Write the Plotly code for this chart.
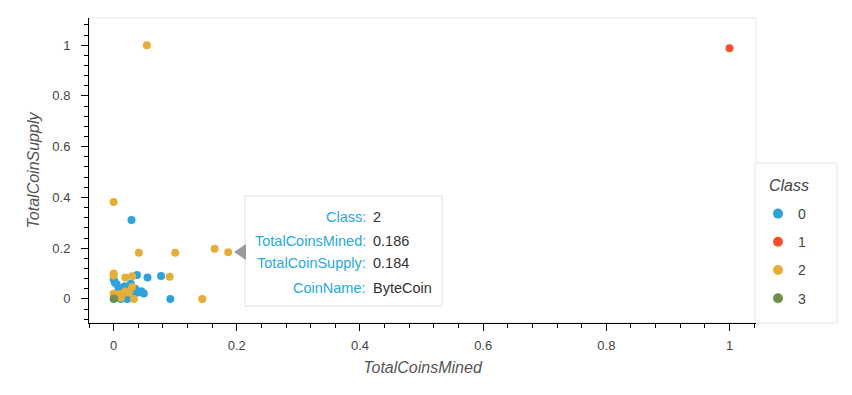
import plotly.graph_objects as go

# ---- data ----
class0_x = [0.029, 0.038, 0.055, 0.077, 0.000, 0.005, 0.016, 0.040, 0.049, 0.003, 0.092, 0.020, 0.025, 0.010, 0.035, 0.012, 0.045, 0.028, 0.008, 0.018, 0.002, 0.030, 0.022]
class0_y = [0.311, 0.094, 0.084, 0.090, 0.077, 0.058, 0.044, 0.025, 0.021, 0.005, 0.000, 0.010, 0.005, 0.020, 0.040, 0.000, 0.030, 0.060, 0.035, 0.050, 0.065, 0.015, 0.000]
class1_x = [1.0]
class1_y = [0.988]
class2_x = [0.054, 0.000, 0.041, 0.100, 0.164, 0.186, 0.000, 0.000, 0.019, 0.030, 0.091, 0.030, 0.008, 0.019, 0.033, 0.144, 0.005, 0.015, 0.025, 0.000, 0.012]
class2_y = [1.000, 0.382, 0.182, 0.182, 0.198, 0.184, 0.100, 0.092, 0.084, 0.089, 0.087, 0.047, 0.018, 0.029, 0.000, 0.000, 0.010, 0.020, 0.025, 0.020, 0.005]
class3_x = [0.000, 0.001]
class3_y = [0.000, 0.002]

classes = ["0", "1", "2", "3"]
colors = ["#30a2da", "#fc4f30", "#e5ae38", "#6d904f"]
xs = [class0_x, class1_x, class2_x, class3_x]
ys = [class0_y, class1_y, class2_y, class3_y]

tooltip_labels = ["Class:", "TotalCoinsMined:", "TotalCoinSupply:", "CoinName:"]
tooltip_values = ["2", "0.186", "0.184", "ByteCoin"]

W, H = 852, 395
L, R, T, B = 89, 756, 18, 323

def px(x):
    return (x - L) / (R - L)

def py(y):
    return (B - y) / (B - T)

fig = go.Figure()
for name, c, x, y in zip(classes, colors, xs, ys):
    fig.add_trace(go.Scatter(x=x, y=y, mode="markers", name=name, legendgroup=name,
                             showlegend=False,
                             marker=dict(color=c, size=8, line=dict(width=0))))
# legend entries with larger swatches
for name, c in zip(classes, colors):
    fig.add_trace(go.Scatter(x=[None], y=[None], mode="markers", name=name, legendgroup=name,
                             showlegend=True, hoverinfo="skip",
                             marker=dict(color=c, size=10, line=dict(width=0))))

font = "Liberation Sans, Arial, Helvetica, sans-serif"
axis_common = dict(
    showgrid=False, zeroline=False, showline=True, linecolor="black", linewidth=1,
    ticks="outside", ticklen=7, tickcolor="black", tickwidth=1,
    tickfont=dict(family=font, size=13, color="#444"),
    minor=dict(ticks="outside", ticklen=4, tickcolor="black", dtick=0.04, showgrid=False),
    dtick=0.2, tick0=0, tickformat="~g",
)
fig.update_xaxes(range=[-0.04, 1.043], ticklabelstandoff=3, **axis_common,
                 title=dict(text="<i>TotalCoinsMined</i>", font=dict(family=font, size=16, color="#555"), standoff=10))
fig.update_yaxes(range=[-0.095, 1.107], ticklabelstandoff=8, **axis_common,
                 title=dict(text="<i>TotalCoinSupply</i>", font=dict(family=font, size=16, color="#555"), standoff=8))

shapes = [
    dict(type="rect", xref="paper", yref="paper", x0=0, x1=1, y0=0, y1=1,
         line=dict(color="#e5e5e5", width=1), layer="below"),
    # legend box
    dict(type="rect", xref="paper", yref="paper", x0=px(755), x1=px(837), y0=py(323), y1=py(163),
         line=dict(color="#e5e5e5", width=1), fillcolor="white", layer="below"),
    # tooltip box
    dict(type="rect", xref="paper", yref="paper", x0=px(245), x1=px(442), y0=py(306), y1=py(196),
         line=dict(color="#e0e0e0", width=1), fillcolor="white", layer="above"),
    dict(type="path", xref="paper", yref="paper",
         path=f"M {px(234)} {py(252)} L {px(246)} {py(244)} L {px(246)} {py(260)} Z",
         line=dict(width=0), fillcolor="#9a9a9a", layer="above"),
]

annotations = [dict(xref="paper", yref="paper", x=px(767), y=py(185), text="<i>Class</i>",
                    showarrow=False, xanchor="left", yanchor="middle",
                    font=dict(family=font, size=16, color="#444"))]
row_y = [216.5, 240.5, 263, 287.5]
for lab, val, ry in zip(tooltip_labels, tooltip_values, row_y):
    annotations.append(dict(xref="paper", yref="paper", x=px(368), y=py(ry), text=lab,
                            showarrow=False, xanchor="right", yanchor="middle",
                            font=dict(family=font, size=14.5, color="#26aae1")))
    annotations.append(dict(xref="paper", yref="paper", x=px(371), y=py(ry), text=val,
                            showarrow=False, xanchor="left", yanchor="middle",
                            font=dict(family=font, size=14.5, color="#333")))

fig.update_layout(
    width=W, height=H,
    margin=dict(l=L, r=W - R, t=T, b=H - B),
    paper_bgcolor="white", plot_bgcolor="white",
    showlegend=True,
    legend=dict(font=dict(family=font, size=14, color="#444"),
                x=px(758), xanchor="left", y=py(198), yanchor="top",
                borderwidth=0, bgcolor="rgba(0,0,0,0)",
                itemwidth=30, tracegroupgap=7),
    shapes=shapes, annotations=annotations,
    hovermode="closest",
)

fig.write_html("out.html")
